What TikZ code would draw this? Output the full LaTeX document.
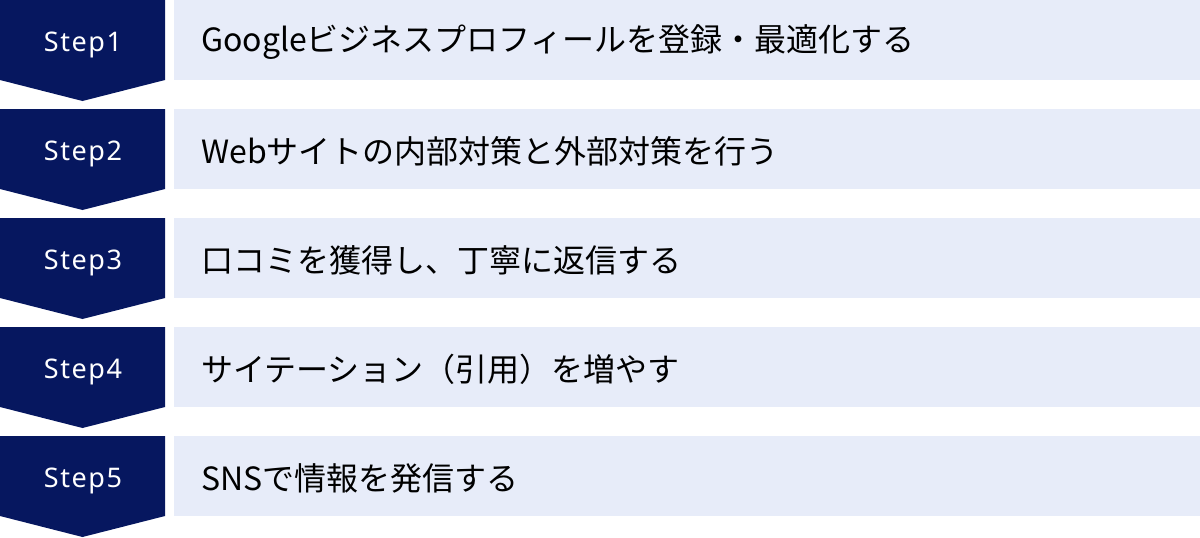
\documentclass[tikz,border=0pt]{standalone}
\usepackage{fontspec}
\setmainfont{Noto Sans}
\newfontfamily\jpfont{Noto Sans CJK JP}
\newfontfamily\stepfont[LetterSpace=6]{Noto Sans}
\definecolor{navy}{HTML}{06175F}
\definecolor{pale}{HTML}{E7ECF9}
\tikzset{
  chev/.style={fill=navy, draw=none},
  bar/.style={fill=pale, draw=none},
  steplabel/.style={text=white, font=\stepfont\fontsize{27}{32}\selectfont, anchor=base, inner sep=0pt},
  desc/.style={text=black, font=\jpfont\fontsize{32}{38}\selectfont, anchor=west, inner sep=0pt}
}
\begin{document}
\begin{tikzpicture}[x=1pt,y=-1pt]
\useasboundingbox (0,0) rectangle (1200,538);
\foreach \i/\lab/\txt in {0/Step1/Googleビジネスプロフィールを登録・最適化する,
                          1/Step2/Webサイトの内部対策と外部対策を行う,
                          2/Step3/口コミを獲得し、丁寧に返信する,
                          3/Step4/サイテーション（引用）を増やす,
                          4/Step5/SNSで情報を発信する}{
  \pgfmathsetmacro{\t}{109*\i}
  \fill[chev] (0,\t) -- (165,\t) -- (165,\t+80) -- (82.5,\t+101) -- (0,\t+80) -- cycle;
  \fill[bar] (174,\t) rectangle (1200,\t+80);
  \node[steplabel] (s\i) at (83,\t+51) {\lab};
  \node[desc] (d\i) at (201,\t+42) {\txt};
}
\end{tikzpicture}
\end{document}
